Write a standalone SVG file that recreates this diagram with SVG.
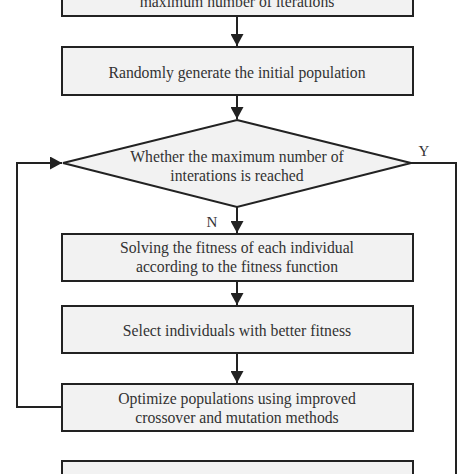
<svg xmlns="http://www.w3.org/2000/svg" width="474" height="474" viewBox="0 0 474 474">
<defs>
<style>
.box{fill:#f2f2f2;stroke:#222;stroke-width:2}
.t{font-family:"Liberation Serif","Times New Roman",serif;font-size:15.7px;fill:#333;text-anchor:middle}
.lbl{font-family:"Liberation Serif","Times New Roman",serif;font-size:15px;fill:#333;text-anchor:middle}
.ln{fill:none;stroke:#222;stroke-width:2}
</style>
<marker id="ah" viewBox="0 0 12 13" refX="12" refY="6.5" markerWidth="12" markerHeight="13" markerUnits="userSpaceOnUse" orient="auto">
<path d="M0,0 L12,6.5 L0,13 Z" fill="#222"/>
</marker>
</defs>
<rect width="474" height="474" fill="#fff"/>
<g id="n1"><rect class="box" x="62" y="-30" width="351" height="46"/><text class="t" x="237" y="7">maximum number of iterations</text></g>
<g id="n2"><rect class="box" x="62" y="47" width="351" height="48"/><text class="t" x="237" y="78">Randomly generate the initial population</text></g>
<g id="n3"><polygon class="box" points="237,120 411,163 237,207 63,163"/><text class="t" x="237" y="162">Whether the maximum number of</text><text class="t" x="237" y="181">interations is reached</text></g>
<g id="n4"><rect class="box" x="62" y="234" width="351" height="47"/><text class="t" x="237" y="253">Solving the fitness of each individual</text><text class="t" x="237" y="272">according to the fitness function</text></g>
<g id="n5"><rect class="box" x="62" y="306" width="351" height="47"/><text class="t" x="237" y="336">Select individuals with better fitness</text></g>
<g id="n6"><rect class="box" x="62" y="384" width="351" height="47"/><text class="t" x="237" y="404">Optimize populations using improved</text><text class="t" x="237" y="423">crossover and mutation methods</text></g>
<g id="n7"><rect class="box" x="62" y="461" width="351" height="40"/></g>
<g id="connectors">
<line class="ln" x1="237" y1="16" x2="237" y2="46" marker-end="url(#ah)"/>
<line class="ln" x1="237" y1="95" x2="237" y2="119" marker-end="url(#ah)"/>
<line class="ln" x1="237" y1="207" x2="237" y2="233" marker-end="url(#ah)"/>
<line class="ln" x1="237" y1="281" x2="237" y2="305" marker-end="url(#ah)"/>
<line class="ln" x1="237" y1="353" x2="237" y2="383" marker-end="url(#ah)"/>
<polyline class="ln" points="62,407 17,407 17,163 62,163" marker-end="url(#ah)"/>
<polyline class="ln" points="411,163 456,163 456,480"/>
<text class="lbl" x="424" y="156">Y</text>
<text class="lbl" x="212" y="227">N</text>
</g>
</svg>
